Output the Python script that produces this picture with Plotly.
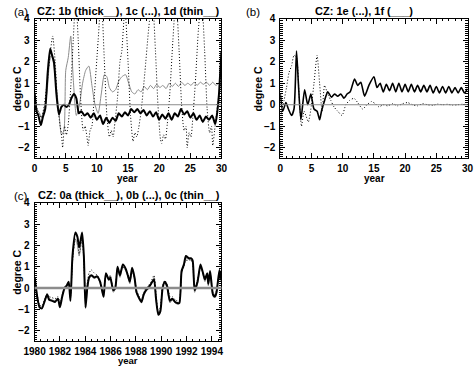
import plotly.graph_objects as go

# ---------------- data ----------------
# Panel (a): CZ runs 1b (thick), 1c (dotted), 1d (thin)
a_thick_t = [0, 0.3, 0.6, 1.0, 1.3, 1.7, 2.1, 2.5, 2.8, 3.1, 3.5, 3.9, 4.3, 4.7, 5.1, 5.5, 5.9, 6.3, 6.7, 7.1,
             7.5, 8.0, 8.5, 9.0, 9.5, 10.0, 10.5, 11.0, 11.5, 12.0, 12.5, 13.0, 13.5, 14.0, 14.5, 15.0, 15.5, 16.0, 16.5, 17.0,
             17.5, 18.0, 18.5, 19.0, 19.5, 20.0, 20.5, 21.0, 21.5, 22.0, 22.5, 23.0, 23.5, 24.0, 24.5, 25.0, 25.5, 26.0, 26.5, 27.0,
             27.5, 28.0, 28.5, 29.0, 29.3, 29.6, 29.8, 30.0]
a_thick_v = [0.55, -0.3, -0.5, -0.95, -0.6, -0.2, 1.5, 2.6, 2.3, 2.0, 0.5, -0.45, -0.1, 0.0, -0.1, 0.0, 0.3, 0.5, 0.3, -0.4,
             -0.3, -0.5, -0.4, -0.6, -0.4, -0.7, -0.5, -0.9, -0.6, -0.85, -0.6, -0.75, -0.4, -0.55, -0.35, -0.5, -0.2, -0.35, -0.2, -0.4,
             -0.25, -0.5, -0.3, -0.55, -0.35, -0.7, -0.45, -0.65, -0.4, -0.7, -0.4, -0.55, -0.2, -0.45, -0.3, -0.6, -0.4, -0.7, -0.5, -0.8,
             -0.55, -0.7, -0.5, -0.9, -0.4, 0.5, 1.5, 2.5]

a_dot_t = [0, 0.4, 0.8, 1.1, 1.5, 2.0, 2.5, 2.9, 3.3, 3.7, 4.1, 4.3, 4.5, 4.8, 5.1, 5.4, 5.8, 6.2, 6.6, 7.0,
           7.4, 7.8, 8.1, 8.4, 8.6, 8.9, 9.2, 9.6, 10.2, 10.7, 11.2, 11.6, 12.0, 12.3, 12.6, 12.9, 13.3, 13.7, 14.0, 14.5,
           15.0, 15.4, 15.8, 16.1, 16.4, 16.7, 17.1, 17.7, 18.3, 18.9, 19.4, 19.8, 20.2, 20.4, 20.7, 21.0, 21.3, 21.7, 22.2, 22.7,
           23.2, 23.6, 24.0, 24.3, 24.5, 24.8, 25.1, 25.4, 25.8, 26.3, 26.8, 27.3, 27.7, 28.1, 28.4, 28.6, 28.9, 29.2, 29.6, 30.0]
a_dot_v = [0.4, -0.2, -0.5, -0.6, -0.1, 1.0, 2.4, 3.2, 2.0, 0.0, -1.0, -1.3, -2.0, -1.0, -1.4, -0.9, 0.8, 3.0, 5.0, 3.0,
           0.2, -1.2, -1.0, -1.5, -1.9, -1.2, -1.0, 0.5, 3.0, 5.0, 2.0, -0.5, -1.5, -1.2, -1.5, -0.8, 0.3, 2.0, 2.5, 4.5,
           2.0, -0.5, -1.7, -1.3, -1.5, -1.1, -0.3, 1.5, 3.5, 5.0, 2.5, 0.0, -1.6, -1.8, -1.4, -1.6, -0.9, 0.5, 3.0, 5.0,
           2.5, 0.0, -1.2, -1.0, -2.0, -1.3, -1.5, -0.6, 1.0, 3.5, 5.0, 2.5, -0.2, -1.3, -1.0, -1.9, -1.2, -0.4, 0.5, 1.5]

a_thin_t = [0, 0.4, 0.8, 1.1, 1.5, 2.0, 2.4, 2.7, 3.1, 3.5, 3.9, 4.3, 4.7, 5.0, 5.4, 5.8, 6.2, 6.7, 7.2, 7.7,
            8.2, 8.7, 9.2, 9.7, 10.2, 10.7, 11.2, 11.6, 12.0, 12.5, 13.0, 13.5, 14.0, 14.6, 15.1, 15.6, 16.1, 16.6, 17.1, 17.6,
            18.1, 18.6, 19.1, 19.6, 20.1, 20.6, 21.1, 21.6, 22.1, 22.6, 23.1, 23.6, 24.1, 24.6, 25.1, 25.6, 26.1, 26.6, 27.1, 27.6,
            28.1, 28.6, 29.1, 29.6, 30.0]
a_thin_v = [0.5, -0.2, -0.4, -0.6, -0.2, 0.6, 2.0, 2.3, 1.8, 0.8, -0.3, -1.4, -1.2, 1.6, 2.2, 3.2, 1.2, -0.5, 0.0, 1.0,
            1.6, 1.8, 0.9, 0.0, -0.4, 0.5, 1.4, 1.3, 0.8, 0.6, 0.7, 1.1, 1.3, 1.4, 1.0, 0.6, 0.5, 0.7, 0.6, 0.85,
            0.7, 0.9, 0.75, 0.95, 0.8, 0.9, 0.75, 1.0, 0.85, 1.0, 0.85, 1.05, 0.9, 1.0, 0.9, 1.05, 0.9, 1.05, 0.95, 1.05,
            0.9, 1.05, 0.9, 1.0, 0.95]

# Panel (b): CZ runs 1e (dotted), 1f (solid)
b_solid_t = [0, 0.4, 0.9, 1.3, 1.8, 2.2, 2.6, 2.9, 3.3, 3.9, 4.4, 4.9, 5.4, 5.9, 6.3, 6.6, 7.1, 7.6, 8.2, 8.7,
             9.2, 9.7, 10.2, 10.7, 11.2, 11.9, 12.4, 12.9, 13.5, 14.2, 15.0, 15.5, 16.0, 16.5, 17.0, 17.5, 18.0, 18.5, 19.0, 19.5,
             20.0, 20.5, 21.0, 21.5, 22.0, 22.5, 23.0, 23.5, 24.0, 24.5, 25.0, 25.5, 26.0, 26.5, 27.0, 27.5, 28.0, 28.5, 29.0, 29.5,
             30.0]
b_solid_v = [0.5, -0.3, 0.1, -0.2, -0.5, -0.2, 2.5, 1.0, -0.7, 0.7, 0.0, 0.5, -0.2, -0.3, -0.7, -0.3, 0.2, 0.6, 0.35, 0.5,
             0.4, 0.5, 0.3, 0.5, 0.6, 1.2, 0.9, 1.05, 0.4, 0.9, 1.3, 0.8, 1.0, 0.6, 0.95, 0.65, 1.0, 0.6, 1.0, 0.6,
             0.95, 0.6, 0.95, 0.6, 0.9, 0.6, 0.9, 0.6, 0.9, 0.55, 0.85, 0.55, 0.85, 0.55, 0.85, 0.55, 0.8, 0.55, 0.8, 0.55,
             0.75]

b_dot_t = [0, 0.2, 0.6, 1.0, 1.4, 1.8, 2.2, 2.6, 3.0, 3.4, 3.8, 4.1, 4.5, 5.0, 5.4, 5.9, 6.3, 6.7, 7.1, 7.6,
           8.1, 8.6, 9.2, 9.9, 10.5, 11.1, 11.8, 12.4, 13.2, 13.9, 14.6, 15.2, 15.8, 16.5, 17.2, 18.0, 18.8, 19.6, 20.4, 21.2,
           22.0, 22.8, 23.6, 24.4, 25.2, 26.0, 26.8, 27.6, 28.4, 29.2, 30.0]
b_dot_v = [-2.2, -0.3, 0.2, 0.8, 1.5, 1.8, 2.3, 2.2, 0.5, -1.0, -0.3, -0.5, -0.8, 0.0, 1.0, 2.3, 1.0, -0.3, 0.9, 0.5,
           0.2, -0.1, -0.3, -0.5, 0.0, 0.2, 0.3, 0.1, -0.2, 0.0, 0.15, 0.05, -0.1, 0.0, -0.05, 0.05, -0.05, 0.05, 0.1, 0.0,
           -0.05, 0.05, 0.0, -0.03, 0.03, 0.0, 0.02, -0.02, 0.0, 0.02, 0.0]

# Panel (c): CZ runs 0a (thick), 0b (dotted), 0c (thin), 1980-1994
c_year = [1980.00, 1980.23, 1980.39, 1980.57, 1980.80, 1980.99, 1981.15, 1981.38, 1981.61, 1981.84,
          1982.00, 1982.18, 1982.37, 1982.53, 1982.69, 1982.83, 1982.99, 1983.22, 1983.38, 1983.52,
          1983.75, 1983.89, 1984.02, 1984.16, 1984.30, 1984.48, 1984.71, 1984.94, 1985.17, 1985.29,
          1985.45, 1985.63, 1985.86, 1985.98, 1986.21, 1986.37, 1986.55, 1986.74, 1986.97, 1987.20,
          1987.36, 1987.52, 1987.70, 1987.89, 1988.05, 1988.28, 1988.44, 1988.62, 1988.80, 1988.97,
          1989.20, 1989.43, 1989.59, 1989.77, 1989.93, 1990.11, 1990.28, 1990.46, 1990.69, 1990.87,
          1991.10, 1991.26, 1991.43, 1991.61, 1991.79, 1991.95, 1992.18, 1992.34, 1992.48, 1992.64,
          1992.87, 1993.10, 1993.26, 1993.45, 1993.63, 1993.72, 1993.86, 1994.09, 1994.25, 1994.37,
          1994.60, 1994.67, 1994.75]
c_thick = [0.5, -0.5, -0.9, -0.95, -0.6, -0.3, -0.55, -0.6, -0.65, -0.5,
           -0.9, -0.4, 0.0, 0.1, 0.3, -0.6, 1.5, 2.6, 2.4, 1.9,
           2.6, 1.5, -0.9, 0.0, 0.5, 0.6, 0.5, 0.55, 0.3, 0.0,
           -0.4, 0.7, 0.4, 0.5, -0.1, 0.0, 1.0, 0.6, 1.1, 0.9,
           0.6, 0.3, 0.95, 0.5, -0.2, -0.5, -0.65, -0.3, -0.1, 0.0,
           0.2, 0.4, -0.5, -1.25, -1.1, 0.0, 0.3, 0.1, -0.6, -0.5,
           -0.65, -0.7, -0.7, 0.8, 1.1, 1.5, 1.4, 1.4, 1.3, -0.1,
           0.3, 1.1, 0.8, 0.4, 0.7, 0.2, 0.8, -0.3, -0.4, -0.2,
           0.85, 0.45, 0.8]
c_dot = [0.4, -0.4, -0.8, -0.85, -0.5, -0.3, -0.4, -0.45, -0.5, -0.4,
         -0.7, -0.3, 0.0, 0.1, 0.2, -0.4, 1.2, 2.3, 2.2, 1.6,
         2.3, 1.3, -0.6, 0.2, 0.7, 0.85, 0.7, 0.6, 0.35, 0.1,
         -0.2, 0.6, 0.5, 0.6, 0.0, 0.1, 0.9, 0.7, 1.0, 0.85,
         0.7, 0.35, 0.8, 0.5, -0.1, -0.4, -0.55, -0.2, 0.0, 0.1,
         0.3, 0.6, -0.3, -1.1, -0.9, 0.1, 0.35, 0.2, -0.4, -0.4,
         -0.55, -0.6, -0.6, 0.7, 1.0, 1.3, 1.3, 1.35, 1.2, 0.0,
         0.4, 1.0, 0.8, 0.5, 0.6, 0.3, 0.7, -0.2, -0.3, -0.1,
         0.7, 0.5, 0.7]
c_thin = [0.4, -0.5, -0.85, -1.0, -0.55, -0.25, -0.5, -0.55, -0.6, -0.45,
          -0.85, -0.35, 0.05, 0.15, 0.3, -0.5, 1.3, 2.3, 2.0, 1.5,
          2.4, 1.4, -0.95, -0.1, 0.4, 0.55, 0.45, 0.5, 0.25, -0.05,
          -0.45, 0.6, 0.35, 0.45, -0.2, -0.05, 0.95, 0.5, 1.0, 0.8,
          0.55, 0.2, 0.85, 0.4, -0.25, -0.55, -0.7, -0.35, -0.15, 0.0,
          0.15, 0.5, -0.55, -1.2, -1.0, 0.05, 0.25, 0.0, -0.7, -0.55,
          -0.7, -0.75, -0.75, 0.7, 1.05, 1.4, 1.35, 1.3, 1.2, -0.2,
          0.2, 1.0, 0.75, 0.3, 0.6, 0.1, 0.7, -0.4, -0.45, -0.25,
          0.8, 0.35, 0.7]

y_tickvals = [-2, -1, 0, 1, 2, 3, 4]

# ---------------- figure ----------------
W, H = 474, 366
FONT = "Liberation Sans"


def px_x(p):
    return p / W


def px_y(p):
    return 1 - p / H


fig = go.Figure()

thick = dict(color="black", width=2)
thin = dict(color="#8c8c8c", width=1)
dot = dict(color="black", width=1, dash="1px,2px")

sm = dict(shape="spline", smoothing=0.6)

fig.add_trace(go.Scatter(x=a_thin_t, y=a_thin_v, mode="lines", line=dict(**thin, **sm), xaxis="x", yaxis="y"))
fig.add_trace(go.Scatter(x=a_dot_t, y=a_dot_v, mode="lines", line=dict(**dot, **sm), xaxis="x", yaxis="y"))
fig.add_trace(go.Scatter(x=a_thick_t, y=a_thick_v, mode="lines", line=dict(**thick, **sm), xaxis="x", yaxis="y"))

fig.add_trace(go.Scatter(x=b_dot_t, y=b_dot_v, mode="lines", line=dict(**dot, **sm), xaxis="x2", yaxis="y2"))
fig.add_trace(go.Scatter(x=b_solid_t, y=b_solid_v, mode="lines", line=dict(color="black", width=1.6, **sm), xaxis="x2", yaxis="y2"))

fig.add_trace(go.Scatter(x=c_year, y=c_thin, mode="lines", line=dict(**thin, **sm), xaxis="x3", yaxis="y3"))
fig.add_trace(go.Scatter(x=c_year, y=c_dot, mode="lines", line=dict(**dot, **sm), xaxis="x3", yaxis="y3"))
fig.add_trace(go.Scatter(x=c_year, y=c_thick, mode="lines", line=dict(**thick, **sm), xaxis="x3", yaxis="y3"))

tickfont = dict(family=FONT, size=10, color="black", weight="bold")


def xaxis(dom, rng, dtick, minor, anchor):
    return dict(domain=dom, range=rng, dtick=dtick, tick0=rng[0] if dtick == 2 else 0, anchor=anchor,
                showline=True, linecolor="black", linewidth=1, mirror="allticks",
                ticks="inside", ticklen=5, tickcolor="black", showgrid=False, zeroline=False,
                tickfont=tickfont, ticklabelstandoff=1,
                minor=dict(ticks="inside", ticklen=2.5, tickcolor="black", dtick=minor, showgrid=False))


def yaxis(dom, anchor):
    return dict(domain=dom, range=[-2.5, 4], tickvals=y_tickvals, anchor=anchor,
                showline=True, linecolor="black", linewidth=1, mirror="allticks",
                ticks="inside", ticklen=5, tickcolor="black", showgrid=False, zeroline=False,
                tickfont=tickfont, ticklabelstandoff=2,
                minor=dict(ticks="inside", ticklen=2.5, tickcolor="black", dtick=0.1, tick0=0, showgrid=False))


ax_a = [px_x(24.5), px_x(218.3)]
ax_b = [px_x(279.3), px_x(473.5)]
ay_top = [px_y(155), px_y(13)]
ay_bot = [px_y(341), px_y(200)]

fig.update_layout(
    width=W, height=H, margin=dict(l=0, r=0, t=0, b=0),
    paper_bgcolor="white", plot_bgcolor="white", showlegend=False,
    xaxis=xaxis(ax_a, [0, 30], 5, 1, "y"),
    yaxis=yaxis(ay_top, "x"),
    xaxis2=xaxis(ax_b, [0, 30], 5, 1, "y2"),
    yaxis2=yaxis(ay_top, "x2"),
    xaxis3=xaxis(ax_a, [1980, 1994.76], 2, 0.5, "y3"),
    yaxis3=yaxis(ay_bot, "x3"),
)

# zero reference lines
fig.add_shape(type="line", xref="x domain", yref="y", x0=0, x1=1, y0=0, y1=0, line=dict(color="#8c8c8c", width=1))
fig.add_shape(type="line", xref="x2 domain", yref="y2", x0=0, x1=1, y0=0, y1=0, line=dict(color="#8c8c8c", width=1))
fig.add_shape(type="line", xref="x3 domain", yref="y3", x0=0, x1=1, y0=0, y1=0, line=dict(color="#8c8c8c", width=2.5))


def ann(text, x, y, size=10.5, bold=True, xanchor="center", angle=0, family=FONT):
    fig.add_annotation(text=text, x=px_x(x), y=px_y(y), xref="paper", yref="paper",
                       xanchor=xanchor, yanchor="middle", showarrow=False, textangle=angle,
                       font=dict(family=family, size=size, color="black", weight="bold" if bold else "normal"))


ann("(a)", 1, 6.5, size=11.5, bold=False, xanchor="left")
ann("CZ: 1b (thick__), 1c (...), 1d (thin__)", 121, 5, size=11)
ann("(b)", 241.5, 6.5, size=11.5, bold=False, xanchor="left")
ann("CZ: 1e (...), 1f (___)", 366, 5, size=11)
ann("(c)", 1, 193, size=11.5, bold=False, xanchor="left")
ann("CZ: 0a (thick__), 0b (...), 0c (thin__)", 122, 192, size=11)

ann("year", 121, 175, size=10)
ann("year", 377, 175, size=10)
ann("year", 121, 360.5, size=9.5)

ann("degree C", 6, 84, angle=-90)
ann("degree C", 256, 84, angle=-90)
ann("degree C", 6, 270.5, angle=-90)

fig.write_html("out.html", config={"displayModeBar": False},
               post_script="document.body.style.margin='0';document.body.style.overflow='hidden';")
